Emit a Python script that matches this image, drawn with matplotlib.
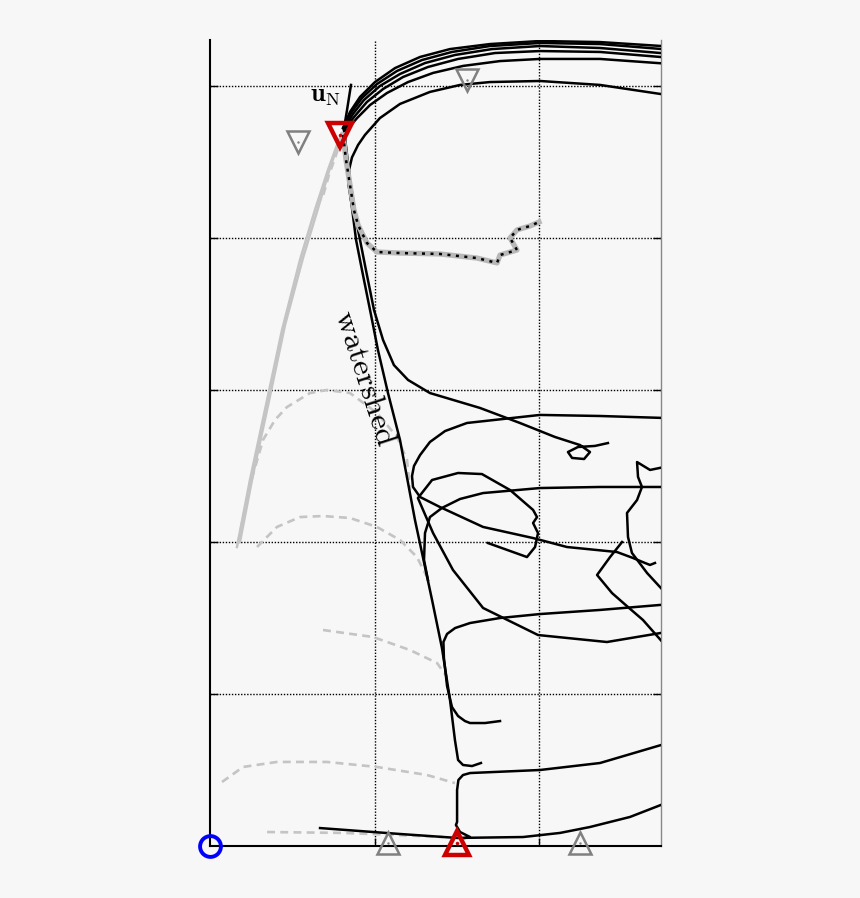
import matplotlib
matplotlib.use("Agg")
import matplotlib.pyplot as plt

BG = "#f7f7f7"
GRAY = "#c4c4c4"

# --- black trajectories (x, y) ---
t1_x = [0.809, 0.851, 0.912, 1.003, 1.125, 1.277, 1.459, 1.702, 2.006, 2.371, 2.76]
t1_y = [4.724, 4.829, 4.928, 5.026, 5.118, 5.191, 5.243, 5.276, 5.296, 5.289, 5.262]
t2_x = [0.809, 0.857, 0.924, 1.015, 1.137, 1.289, 1.471, 1.702, 2.006, 2.371, 2.76]
t2_y = [4.724, 4.822, 4.921, 5.013, 5.099, 5.171, 5.224, 5.263, 5.283, 5.276, 5.242]
t3_x = [0.815, 0.869, 0.936, 1.033, 1.155, 1.307, 1.489, 1.714, 2.006, 2.371, 2.76]
t3_y = [4.717, 4.816, 4.908, 5.000, 5.079, 5.151, 5.204, 5.243, 5.263, 5.250, 5.215]
t4_x = [0.815, 0.881, 0.954, 1.052, 1.173, 1.325, 1.508, 1.733, 2.006, 2.371, 2.76]
t4_y = [4.711, 4.803, 4.895, 4.980, 5.059, 5.125, 5.178, 5.217, 5.230, 5.224, 5.189]
t5_x = [0.821, 0.894, 0.973, 1.076, 1.204, 1.356, 1.538, 1.763, 2.006, 2.371, 2.76]
t5_y = [4.697, 4.789, 4.875, 4.954, 5.026, 5.086, 5.132, 5.164, 5.178, 5.178, 5.148]
t6_x = [0.857, 0.842, 0.845, 0.863, 0.900, 0.942, 1.033, 1.155, 1.337, 1.520,
        1.702, 2.006, 2.371, 2.76]
t6_y = [4.250, 4.349, 4.447, 4.530, 4.612, 4.678, 4.789, 4.882, 4.961, 5.007,
        5.026, 5.033, 5.007, 4.944]

a_x = [0.857, 0.833, 0.815, 0.833, 0.857, 0.888, 0.924, 0.979, 1.021, 1.082, 1.155,
       1.246, 1.350, 1.410, 1.459, 1.489, 1.508, 1.538, 1.593, 1.647]
a_y = [5.007, 4.842, 4.724, 4.513, 4.250, 3.987, 3.789, 3.493, 3.263, 2.980, 2.671,
       2.145, 1.618, 1.303, 0.961, 0.697, 0.566, 0.533, 0.526, 0.546]

b_x = [0.815, 0.851, 0.900, 0.948, 0.997, 1.052, 1.118, 1.204, 1.337, 1.641, 1.884,
       2.097, 2.249, 2.310, 2.274, 2.201, 2.176, 2.237, 2.340, 2.419]
b_y = [4.711, 4.382, 4.053, 3.789, 3.526, 3.329, 3.164, 3.066, 2.980, 2.882, 2.783,
       2.691, 2.638, 2.592, 2.546, 2.553, 2.592, 2.625, 2.632, 2.651]

e_x = [2.76, 2.371, 2.006, 1.562, 1.429, 1.337, 1.277, 1.240, 1.228, 1.234, 1.277,
       1.398, 1.660, 1.964, 2.170, 2.474, 2.571, 2.644, 2.675, 2.705]
e_y = [2.816, 2.829, 2.836, 2.783, 2.730, 2.658, 2.572, 2.500, 2.434, 2.362, 2.296,
       2.230, 2.099, 2.026, 1.967, 1.934, 1.895, 1.862, 1.849, 1.862]

f_x = [1.690, 1.927, 1.976, 1.994, 1.964, 1.988, 1.964, 1.824, 1.653, 1.508, 1.350,
       1.264, 1.356, 1.477, 1.660, 1.994, 2.413, 2.76]
f_y = [1.993, 1.901, 1.967, 2.059, 2.125, 2.164, 2.211, 2.342, 2.447, 2.454, 2.408,
       2.289, 2.059, 1.816, 1.566, 1.388, 1.342, 1.405]

g_x = [2.76, 2.371, 2.006, 1.660, 1.520, 1.410, 1.337, 1.307, 1.301, 1.325]
g_y = [2.362, 2.362, 2.355, 2.322, 2.283, 2.224, 2.164, 2.059, 1.882, 1.750]

h_x = [2.76, 2.675, 2.596, 2.602, 2.626, 2.596, 2.535, 2.541, 2.565, 2.657, 2.76]
h_y = [2.493, 2.474, 2.526, 2.428, 2.362, 2.276, 2.191, 2.033, 1.928, 1.796, 1.675]

i_x = [2.505, 2.432, 2.353, 2.444, 2.541, 2.632, 2.76]
i_y = [2.000, 1.901, 1.783, 1.664, 1.572, 1.487, 1.330]

m_x = [2.76, 2.371, 2.006, 1.763, 1.581, 1.490, 1.441, 1.419, 1.422, 1.441, 1.471,
       1.508, 1.550, 1.581, 1.672, 1.763]
m_y = [1.588, 1.553, 1.526, 1.500, 1.467, 1.434, 1.395, 1.342, 1.237, 1.053, 0.914,
       0.855, 0.822, 0.809, 0.809, 0.822]

j_x = [2.76, 2.371, 2.006, 1.581, 1.538, 1.510, 1.502, 1.502, 1.495, 1.520, 1.581,
       1.550]
j_y = [0.670, 0.546, 0.500, 0.480, 0.467, 0.434, 0.368, 0.158, 0.138, 0.092, 0.059,
       0.053]

k_x = [0.669, 1.155, 1.502, 1.903, 2.128, 2.310, 2.553, 2.76]
k_y = [0.118, 0.079, 0.053, 0.059, 0.086, 0.125, 0.191, 0.278]

# checkered trajectory (gray with black dots)
c_x = [0.809, 0.827, 0.851, 0.875, 0.900, 0.954, 1.015, 1.155, 1.398, 1.623, 1.745,
       1.763, 1.866, 1.824, 1.866, 1.945, 2.000]
c_y = [4.678, 4.513, 4.349, 4.184, 4.086, 3.967, 3.908, 3.901, 3.895, 3.868, 3.836,
       3.888, 3.921, 4.000, 4.053, 4.079, 4.105]

# --- gray trajectories ---
s1_x = [0.164, 0.243, 0.334, 0.438, 0.547, 0.638, 0.717, 0.772, 0.802]
s1_y = [1.967, 2.408, 2.868, 3.395, 3.855, 4.184, 4.447, 4.612, 4.691]
s2_x = [0.182, 0.261, 0.353, 0.456, 0.565, 0.657, 0.729, 0.778, 0.809]
s2_y = [2.000, 2.441, 2.901, 3.428, 3.868, 4.197, 4.461, 4.612, 4.691]

d0_x = [0.802, 0.766, 0.723, 0.680]
d0_y = [4.664, 4.546, 4.414, 4.250]
d0b_x = [0.815, 0.827, 0.839]
d0b_y = [4.645, 4.546, 4.447]
d1_x = [0.170, 0.243, 0.322, 0.395, 0.468, 0.608, 0.711, 0.851, 1.015, 1.137, 1.198, 1.216]
d1_y = [1.993, 2.375, 2.671, 2.803, 2.888, 2.980, 3.000, 2.980, 2.849, 2.691, 2.539, 2.342]
d2_x = [0.286, 0.407, 0.547, 0.687, 0.851, 1.015, 1.155, 1.258, 1.319]
d2_y = [1.967, 2.099, 2.164, 2.171, 2.158, 2.099, 2.013, 1.901, 1.770]
d3_x = [0.687, 0.991, 1.216, 1.380, 1.441]
d3_y = [1.421, 1.375, 1.289, 1.204, 1.112]
d4_x = [0.073, 0.201, 0.407, 0.711, 1.015, 1.319, 1.489]
d4_y = [0.421, 0.520, 0.553, 0.553, 0.520, 0.467, 0.414]
d5_x = [0.347, 0.809, 1.137, 1.416]
d5_y = [0.092, 0.086, 0.072, 0.059]

# --- markers ---
start_xy = (0.0, 0.0)
red_down_xy = (0.790, 4.678)
red_up_xy = (1.502, 0.020)
gray_down_x = [0.535, 1.562]
gray_down_y = [4.632, 5.039]
gray_up_x = [1.082, 2.249]
gray_up_y = [0.020, 0.020]

x_grid = [1, 2]
y_grid = [1, 2, 3, 4, 5]


def main():
    plt.rcParams["mathtext.fontset"] = "cm"
    fig = plt.figure(figsize=(8.6, 8.98), dpi=100, facecolor=BG)
    ax = fig.add_axes([210 / 860, 52 / 898, 451 / 860, 806 / 898])
    ax.set_facecolor(BG)
    ax.set_xlim(0, 451 / 164.5)
    ax.set_ylim(0, 806 / 152)

    for x in x_grid:
        ax.axvline(x, color="black", lw=1.0, ls=(0, (1, 1.2)), zorder=1)
    for y in y_grid:
        ax.axhline(y, color="black", lw=1.0, ls=(0, (1, 1.2)), zorder=1)

    dash = (0, (3, 2))
    for xs, ys in [(d0_x, d0_y), (d0b_x, d0b_y), (d1_x, d1_y), (d2_x, d2_y),
                   (d3_x, d3_y), (d4_x, d4_y), (d5_x, d5_y)]:
        ax.plot(xs, ys, color=GRAY, lw=1.9, ls=dash, zorder=2)
    for xs, ys in [(s1_x, s1_y), (s2_x, s2_y)]:
        ax.plot(xs, ys, color=GRAY, lw=1.8, zorder=2)

    black = [(t1_x, t1_y), (t2_x, t2_y), (t3_x, t3_y), (t4_x, t4_y), (t5_x, t5_y),
             (t6_x, t6_y), (a_x, a_y), (b_x, b_y), (e_x, e_y), (f_x, f_y),
             (g_x, g_y), (h_x, h_y), (i_x, i_y), (m_x, m_y), (j_x, j_y), (k_x, k_y)]
    for xs, ys in black:
        ax.plot(xs, ys, color="black", lw=1.8, zorder=3, solid_joinstyle="round")

    ax.plot(c_x, c_y, color="#b8b8b8", lw=3.8, zorder=4)
    ax.plot(c_x, c_y, color="black", lw=1.8, ls=(0, (1.2, 2.2)), zorder=4)

    # markers
    ax.plot(gray_down_x, gray_down_y, "v", ms=16, mfc="none", mec="#808080",
            mew=1.8, zorder=5, clip_on=False)
    ax.plot(gray_up_x, gray_up_y, "^", ms=16, mfc="none", mec="#808080",
            mew=1.8, zorder=5, clip_on=False)
    ax.plot(gray_down_x + gray_up_x, gray_down_y + gray_up_y, ".", ms=1.5,
            color="#808080", zorder=5, clip_on=False)
    ax.plot(*red_down_xy, "v", ms=17, mfc="none", mec="#cc0000", mew=3.2,
            zorder=6, clip_on=False)
    ax.plot(*red_up_xy, "^", ms=17, mfc="none", mec="#cc0000", mew=3.2,
            zorder=6, clip_on=False)
    ax.plot([red_down_xy[0], red_up_xy[0]], [red_down_xy[1], red_up_xy[1]], ".",
            ms=3, color="#cc0000", zorder=6, clip_on=False)
    ax.plot(*start_xy, "o", ms=15, mfc="none", mec="#0000ff", mew=2.8,
            zorder=6, clip_on=False)

    ax.text(0.705, 4.941, r"$\mathbf{u}_{\mathrm{N}}$", fontsize=19,
            ha="center", va="center", zorder=7)
    ax.text(0.940, 3.080, r"$\mathrm{watershed}$", fontsize=23, rotation=-72,
            rotation_mode="anchor", ha="center", va="center", zorder=7)

    ax.set_xticks(x_grid)
    ax.set_yticks(y_grid)
    ax.set_xticklabels([])
    ax.set_yticklabels([])
    ax.tick_params(direction="in", length=6, width=1, left=True, right=True,
                   bottom=True, top=False)
    ax.spines["top"].set_visible(False)
    ax.spines["left"].set_linewidth(1.5)
    ax.spines["bottom"].set_linewidth(1.5)
    ax.spines["right"].set_color("#888888")
    ax.spines["right"].set_linewidth(1.0)

    fig.savefig("out.png", dpi=100, facecolor=BG)


if __name__ == "__main__":
    main()
